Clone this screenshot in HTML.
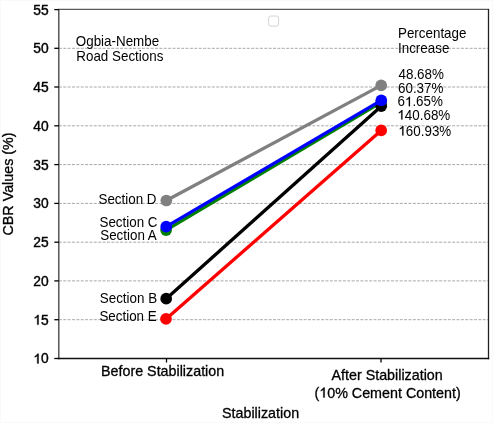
<!DOCTYPE html>
<html><head><meta charset="utf-8">
<style>
html,body{margin:0;padding:0;background:#fff;}
body{width:493px;height:423px;overflow:hidden;position:relative;}
svg{position:absolute;left:0;top:0;filter:blur(0.4px);}
text{font-family:"Liberation Sans",sans-serif;fill:#000;}
.t{font-size:14.3px;stroke:#000;stroke-width:0.3px;}
.s{font-size:13.4px;}
.n{font-size:13.8px;stroke:#000;stroke-width:0.4px;}
</style></head><body>
<svg width="493" height="423" viewBox="0 0 493 423">
<rect x="0.5" y="0.5" width="492" height="422" fill="none" stroke="#f9f9f9" stroke-width="1"/>

<g stroke="#a8a8a8" stroke-width="1" stroke-dasharray="2.95 1.42" fill="none">
<line x1="58.9" y1="319.7" x2="488" y2="319.7"/>
<line x1="58.9" y1="280.9" x2="488" y2="280.9"/>
<line x1="58.9" y1="242.2" x2="488" y2="242.2"/>
<line x1="58.9" y1="203.4" x2="488" y2="203.4"/>
<line x1="58.9" y1="164.6" x2="488" y2="164.6"/>
<line x1="58.9" y1="125.8" x2="488" y2="125.8"/>
<line x1="58.9" y1="87.0" x2="488" y2="87.0"/>
<line x1="58.9" y1="48.3" x2="488" y2="48.3"/>
</g>
<line x1="58.1" y1="9.45" x2="489.1" y2="9.45" stroke="#5a5a5a" stroke-width="1.3"/>
<line x1="58.8" y1="8.9" x2="58.8" y2="359.2" stroke="#4a4a4a" stroke-width="1.4"/>
<line x1="488.5" y1="8.9" x2="488.5" y2="359.2" stroke="#222" stroke-width="1.3"/>
<line x1="58.1" y1="358.5" x2="489.2" y2="358.5" stroke="#111" stroke-width="1.4"/>
<g stroke="#000" stroke-width="1.3">
<line x1="54.3" y1="358.5" x2="58.8" y2="358.5"/>
<line x1="54.3" y1="319.7" x2="58.8" y2="319.7"/>
<line x1="54.3" y1="280.9" x2="58.8" y2="280.9"/>
<line x1="54.3" y1="242.2" x2="58.8" y2="242.2"/>
<line x1="54.3" y1="203.4" x2="58.8" y2="203.4"/>
<line x1="54.3" y1="164.6" x2="58.8" y2="164.6"/>
<line x1="54.3" y1="125.8" x2="58.8" y2="125.8"/>
<line x1="54.3" y1="87.0" x2="58.8" y2="87.0"/>
<line x1="54.3" y1="48.3" x2="58.8" y2="48.3"/>
<line x1="54.3" y1="9.6" x2="58.8" y2="9.6"/>
<line x1="166.5" y1="358.5" x2="166.5" y2="362.5"/><line x1="381" y1="358.5" x2="381" y2="362.5"/></g>
<g transform="translate(33.35,363.40)"><text class="n" x="0" y="0"> 0</text><path transform="translate(0.000,0) scale(0.006738,-0.007075)" d="M773 0L583 0L583 1070Q518 1012 412 954Q306 896 223 870L223 1031Q369 1096 478 1193Q587 1290 632 1365L773 1365Z" stroke="#000" stroke-width="0.4" vector-effect="non-scaling-stroke"/></g>
<g transform="translate(33.35,324.60)"><text class="n" x="0" y="0"> 5</text><path transform="translate(0.000,0) scale(0.006738,-0.007075)" d="M773 0L583 0L583 1070Q518 1012 412 954Q306 896 223 870L223 1031Q369 1096 478 1193Q587 1290 632 1365L773 1365Z" stroke="#000" stroke-width="0.4" vector-effect="non-scaling-stroke"/></g>
<g transform="translate(33.35,285.80)"><text class="n" x="0" y="0">20</text></g>
<g transform="translate(33.35,247.10)"><text class="n" x="0" y="0">25</text></g>
<g transform="translate(33.35,208.30)"><text class="n" x="0" y="0">30</text></g>
<g transform="translate(33.35,169.50)"><text class="n" x="0" y="0">35</text></g>
<g transform="translate(33.35,130.70)"><text class="n" x="0" y="0">40</text></g>
<g transform="translate(33.35,91.90)"><text class="n" x="0" y="0">45</text></g>
<g transform="translate(33.35,53.20)"><text class="n" x="0" y="0">50</text></g>
<g transform="translate(33.35,14.50)"><text class="n" x="0" y="0">55</text></g>
<g transform="translate(101.00,375.80)"><text class="t" x="0" y="0">Before Stabilization</text></g>
<g transform="translate(331.50,379.60)"><text class="t" x="0" y="0">After Stabilization</text></g>
<g transform="translate(314.50,397.50)"><text class="t" x="0" y="0">( 0% Cement Content)</text><path transform="translate(4.762,0) scale(0.006982,-0.007262)" d="M773 0L583 0L583 1070Q518 1012 412 954Q306 896 223 870L223 1031Q369 1096 478 1193Q587 1290 632 1365L773 1365Z" stroke="#000" stroke-width="0.3" vector-effect="non-scaling-stroke"/></g>
<g transform="translate(222.00,417.60)"><text class="t" x="0" y="0">Stabilization</text></g>
<g transform="translate(13.10,235.50) rotate(-90)"><text class="t" x="0" y="0">CBR Values (%)</text></g>
<g transform="translate(75.80,46.10) scale(1,1.07)"><text class="s" x="0" y="0">Ogbia-Nembe</text></g>
<g transform="translate(76.30,60.70) scale(1,1.07)"><text class="s" x="0" y="0">Road Sections</text></g>
<g transform="translate(398.00,38.20) scale(1,1.07)"><text class="s" x="0" y="0">Percentage</text></g>
<g transform="translate(398.00,52.60) scale(1,1.07)"><text class="s" x="0" y="0">Increase</text></g>
<g transform="translate(398.50,79.00) scale(1,1.07)"><text class="s" x="0" y="0">48.68%</text></g>
<g transform="translate(398.00,93.00) scale(1,1.07)"><text class="s" x="0" y="0">60.37%</text></g>
<g transform="translate(397.50,106.30) scale(1,1.07)"><text class="s" x="0" y="0">6 .65%</text><path transform="translate(7.452,0) scale(0.006543,-0.006543)" d="M773 0L583 0L583 1070Q518 1012 412 954Q306 896 223 870L223 1031Q369 1096 478 1193Q587 1290 632 1365L773 1365Z" stroke="#000" stroke-width="0.15" vector-effect="non-scaling-stroke"/></g>
<g transform="translate(397.40,119.50) scale(1,1.07)"><text class="s" x="0" y="0"> 40.68%</text><path transform="translate(0.000,0) scale(0.006543,-0.006543)" d="M773 0L583 0L583 1070Q518 1012 412 954Q306 896 223 870L223 1031Q369 1096 478 1193Q587 1290 632 1365L773 1365Z" stroke="#000" stroke-width="0.15" vector-effect="non-scaling-stroke"/></g>
<g transform="translate(398.40,135.50) scale(1,1.07)"><text class="s" x="0" y="0"> 60.93%</text><path transform="translate(0.000,0) scale(0.006543,-0.006543)" d="M773 0L583 0L583 1070Q518 1012 412 954Q306 896 223 870L223 1031Q369 1096 478 1193Q587 1290 632 1365L773 1365Z" stroke="#000" stroke-width="0.15" vector-effect="non-scaling-stroke"/></g>
<g transform="translate(98.50,203.60) scale(1,1.07)"><text class="s" x="0" y="0">Section D</text></g>
<g transform="translate(99.50,226.60) scale(1,1.07)"><text class="s" x="0" y="0">Section C</text></g>
<g transform="translate(100.20,240.10) scale(1,1.07)"><text class="s" x="0" y="0">Section A</text></g>
<g transform="translate(99.80,302.50) scale(1,1.07)"><text class="s" x="0" y="0">Section B</text></g>
<g transform="translate(99.40,321.00) scale(1,1.07)"><text class="s" x="0" y="0">Section E</text></g>
<rect x="268.6" y="16" width="10" height="10.2" rx="2.2" ry="2.2" fill="none" stroke="#d2d2d2" stroke-width="1"/>
<g stroke-width="3.3" stroke-linecap="butt">
<line x1="166.1" y1="230.1" x2="381.2" y2="102.4" stroke="#008000"/>
<circle cx="166.1" cy="230.1" r="5.85" fill="#008000"/>
<circle cx="381.2" cy="102.4" r="5.85" fill="#008000"/>
<line x1="166.2" y1="298.7" x2="381.2" y2="106.2" stroke="#000"/>
<circle cx="166.2" cy="298.7" r="5.85" fill="#000"/>
<circle cx="381.2" cy="106.2" r="5.85" fill="#000"/>
<line x1="166.2" y1="226.7" x2="381.3" y2="100.4" stroke="#0000ff"/>
<circle cx="166.2" cy="226.7" r="5.85" fill="#0000ff"/>
<circle cx="381.3" cy="100.4" r="5.85" fill="#0000ff"/>
<line x1="166.35" y1="200.5" x2="381.2" y2="85.4" stroke="#808080" stroke-width="3.3"/>
<circle cx="166.35" cy="200.5" r="5.85" fill="#808080"/>
<circle cx="381.2" cy="85.4" r="5.85" fill="#808080"/>
<line x1="166" y1="318.95" x2="381.2" y2="130.4" stroke="#ff0000"/>
<circle cx="166" cy="318.95" r="5.85" fill="#ff0000"/>
<circle cx="381.2" cy="130.4" r="5.85" fill="#ff0000"/>
</g>
</svg>
</body></html>
